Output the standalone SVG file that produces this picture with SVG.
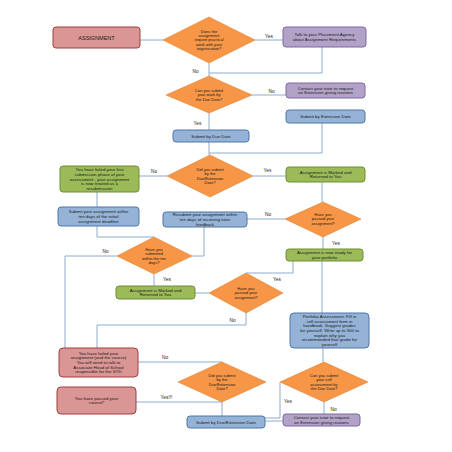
<svg xmlns="http://www.w3.org/2000/svg" width="452" height="452" viewBox="0 0 452 452">
<style>
.bg{fill:#ffffff}
.dm{fill:#f79646;stroke:#e0822f;stroke-width:0.6}
.bl{fill:#95b3d7;stroke:#4f77a8;stroke-width:1}
.gr{fill:#9bbb59;stroke:#6f8f33;stroke-width:1}
.pu{fill:#b3a2c7;stroke:#7d68a0;stroke-width:1}
.rd{fill:#d99694;stroke:#a0413f;stroke-width:1}
.t{font-family:"Liberation Sans",Arial,sans-serif;font-size:4.4px;fill:#1a1a1a;text-anchor:middle}
.dt{font-family:"Liberation Sans",Arial,sans-serif;font-size:4.1px;fill:#1a1a1a;text-anchor:middle}
.lb{font-family:"Liberation Sans",Arial,sans-serif;font-size:4.8px;fill:#1a1a1a;text-anchor:middle}
.c{fill:none;stroke:#8faacc;stroke-width:1}
</style>
<rect class="bg" x="0" y="0" width="452" height="452"/>

<g id="connectors">
<path class="c" d="M140,40 H163"/>
<path class="c" d="M255,40 H283"/>
<path class="c" d="M322,47 V73 H209"/>
<path class="c" d="M209,63 V76"/>
<path class="c" d="M252,95 H286"/>
<path class="c" d="M209,113 V130"/>
<path class="c" d="M209,142 V155"/>
<path class="c" d="M322,123 V153 H209"/>
<path class="c" d="M167,176 H139"/>
<path class="c" d="M253,176 H286"/>
<path class="c" d="M322,182 V202"/>
<path class="c" d="M285,219 H247"/>
<path class="c" d="M97,192 V207"/>
<path class="c" d="M97,226 V237 H154"/>
<path class="c" d="M204,227 V256 H192"/>
<path class="c" d="M117,256 H65 V348"/>
<path class="c" d="M154,274 V286"/>
<path class="c" d="M195,293 H209"/>
<path class="c" d="M246,273 H293 V261"/>
<path class="c" d="M323,237 V249"/>
<path class="c" d="M322,261 V313"/>
<path class="c" d="M246,313 V325 H97 V348"/>
<path class="c" d="M323,348 V362"/>
<path class="c" d="M280,382 V418 H265"/>
<path class="c" d="M324,402 V414"/>
<path class="c" d="M283,421 H265"/>
<path class="c" d="M222,416 V402"/>
<path class="c" d="M138,362 H222"/>
<path class="c" d="M136,402 H222"/>
<text class="lb" x="269" y="38">Yes</text>
<text class="lb" x="195.5" y="72.5">No</text>
<text class="lb" x="271.5" y="92.5">No</text>
<text class="lb" x="197.5" y="124.5">Yes</text>
<text class="lb" x="154" y="172.5">No</text>
<text class="lb" x="267.5" y="171.5">Yes</text>
<text class="lb" x="268" y="215.5">No</text>
<text class="lb" x="336" y="244.5">Yes</text>
<text class="lb" x="105.5" y="252.5">No</text>
<text class="lb" x="167" y="280.5">Yes</text>
<text class="lb" x="277" y="280.5">Yes</text>
<text class="lb" x="232.5" y="321.5">No</text>
<text class="lb" x="165" y="358.5">No</text>
<text class="lb" x="166.5" y="398.5">Yes!!!</text>
<text class="lb" x="288" y="402.5">Yes</text>
<text class="lb" x="333.5" y="410.5">No</text>
</g>

<g id="assignment">
<rect class="rd" x="53" y="27" width="87" height="21" rx="3"/>
<text class="t" x="96.5" y="39.5" style="font-size:5.5px">ASSIGNMENT</text>
</g>

<g id="q-practical">
<polygon class="dm" points="209,17 255,40 209,63 163,40"/>
<text class="dt" x="209" y="32.8">Does the<tspan x="209" dy="4.3">assignment</tspan><tspan x="209" dy="4.3">require practical</tspan><tspan x="209" dy="4.3">work with your</tspan><tspan x="209" dy="4.3">organisation?</tspan></text>
</g>

<g id="talk-agency">
<rect class="pu" x="283" y="27" width="83" height="20" rx="3"/>
<text class="t" x="324.5" y="36.2">Talk to your Placement Agency<tspan x="324.5" dy="4.6">about Assignment Requirements</tspan></text>
</g>

<g id="q-due-date">
<polygon class="dm" points="209,76 252,95 209,113 166,95"/>
<text class="dt" x="209" y="92.1">Can you submit<tspan x="209" dy="4.3">your work by</tspan><tspan x="209" dy="4.3">the Due Date?</tspan></text>
</g>

<g id="contact-tutor-1">
<rect class="pu" x="286" y="83" width="79" height="15" rx="3"/>
<text class="t" x="325.5" y="89.7">Contact your tutor to request<tspan x="325.5" dy="4.6">an Extension giving reasons</tspan></text>
</g>

<g id="submit-extension">
<rect class="bl" x="286" y="110" width="79" height="13" rx="3"/>
<text class="t" x="325.5" y="118">Submit by Extension Date</text>
</g>

<g id="submit-due">
<rect class="bl" x="173" y="130" width="76" height="12" rx="3"/>
<text class="t" x="211" y="137.5">Submit by Due Date</text>
</g>

<g id="q-submitted">
<polygon class="dm" points="210,155 253,176 210,197 167,176"/>
<text class="dt" x="210" y="171">Did you submit<tspan x="210" dy="4.3">by the</tspan><tspan x="210" dy="4.3">Due/Extension</tspan><tspan x="210" dy="4.3">Date?</tspan></text>
</g>

<g id="failed-first">
<rect class="gr" x="60" y="166" width="79" height="26" rx="3"/>
<text class="t" x="99.5" y="171.3">You have failed your first<tspan x="99.5" dy="4.6">submission phase of your</tspan><tspan x="99.5" dy="4.6">assessment - your assignment</tspan><tspan x="99.5" dy="4.6">is now treated as a</tspan><tspan x="99.5" dy="4.6">resubmission</tspan></text>
</g>

<g id="marked-1">
<rect class="gr" x="286" y="167" width="79" height="15" rx="3"/>
<text class="t" x="325.5" y="173.7">Assignment is Marked and<tspan x="325.5" dy="4.6">Returned to You</tspan></text>
</g>

<g id="q-passed-1">
<polygon class="dm" points="323,202 361,219 323,237 285,219"/>
<text class="dt" x="323" y="216.1">Have you<tspan x="323" dy="4.3">passed your</tspan><tspan x="323" dy="4.3">assignment?</tspan></text>
</g>

<g id="resubmit">
<rect class="bl" x="163" y="212" width="84" height="15" rx="3"/>
<text class="t" x="205" y="216.4">Resubmit your assignment within<tspan x="205" dy="4.6">ten days of receiving tutor</tspan><tspan x="205" dy="4.6">feedback</tspan></text>
</g>

<g id="submit-within">
<rect class="bl" x="58" y="207" width="81" height="19" rx="3"/>
<text class="t" x="98.5" y="213.4">Submit your assignment within<tspan x="98.5" dy="4.6">ten days of the initial</tspan><tspan x="98.5" dy="4.6">assignment deadline</tspan></text>
</g>

<g id="q-ten-days">
<polygon class="dm" points="154,237 192,256 154,274 117,256"/>
<text class="dt" x="154" y="251">Have you<tspan x="154" dy="4.3">submitted</tspan><tspan x="154" dy="4.3">within the ten</tspan><tspan x="154" dy="4.3">days?</tspan></text>
</g>

<g id="marked-2">
<rect class="gr" x="116" y="286" width="79" height="13" rx="3"/>
<text class="t" x="155.5" y="291.7">Assignment is Marked and<tspan x="155.5" dy="4.6">Returned to You</tspan></text>
</g>

<g id="q-passed-2">
<polygon class="dm" points="246,273 283,293 246,313 209,293"/>
<text class="dt" x="246" y="290.1">Have you<tspan x="246" dy="4.3">passed your</tspan><tspan x="246" dy="4.3">assignment?</tspan></text>
</g>

<g id="portfolio-ready">
<rect class="gr" x="286" y="249" width="77" height="12" rx="3"/>
<text class="t" x="324.5" y="254.2">Assignment is now ready for<tspan x="324.5" dy="4.6">your portfolio</tspan></text>
</g>

<g id="portfolio-assessment">
<rect class="bl" x="290" y="313" width="79" height="35" rx="4"/>
<text class="t" x="329.5" y="318.2">Portfolio Assessment. Fill in<tspan x="329.5" dy="4.6">self assessment form in</tspan><tspan x="329.5" dy="4.6">handbook.  Suggest grades</tspan><tspan x="329.5" dy="4.6">for yourself.  Write up to 500 to</tspan><tspan x="329.5" dy="4.6">explain why you</tspan><tspan x="329.5" dy="4.6">recommended that grade for</tspan><tspan x="329.5" dy="4.6">yourself</tspan></text>
</g>

<g id="q-self-assessment">
<polygon class="dm" points="324,362 368,382 324,402 280,382"/>
<text class="dt" x="324" y="377">Can you submit<tspan x="324" dy="4.3">your self</tspan><tspan x="324" dy="4.3">assessment by</tspan><tspan x="324" dy="4.3">the Due Date?</tspan></text>
</g>

<g id="contact-tutor-2">
<rect class="pu" x="283" y="414" width="77" height="12" rx="3"/>
<text class="t" x="321.5" y="419.2">Contact your tutor to request<tspan x="321.5" dy="4.6">an Extension giving reasons</tspan></text>
</g>

<g id="submit-due-ext">
<rect class="bl" x="187" y="416" width="78" height="12" rx="3"/>
<text class="t" x="226" y="423.5">Submit by Due/Extension Date</text>
</g>

<g id="q-submitted-2">
<polygon class="dm" points="222,362 266,382 222,402 178,382"/>
<text class="dt" x="222" y="377">Did you submit<tspan x="222" dy="4.3">by the</tspan><tspan x="222" dy="4.3">Due/Extension</tspan><tspan x="222" dy="4.3">Date?</tspan></text>
</g>

<g id="failed-course">
<rect class="rd" x="59" y="348" width="79" height="29" rx="4"/>
<text class="t" x="98.5" y="354.8">You have failed your<tspan x="98.5" dy="4.6">assignment (and the course)</tspan><tspan x="98.5" dy="4.6">You will need to talk to</tspan><tspan x="98.5" dy="4.6">Associate Head of School</tspan><tspan x="98.5" dy="4.6">responsible for the SYD</tspan></text>
</g>

<g id="passed-course">
<rect class="rd" x="57" y="387" width="79" height="27" rx="4"/>
<text class="t" x="96.5" y="399.7">You have passed your<tspan x="96.5" dy="4.6">course!!</tspan></text>
</g>
</svg>
